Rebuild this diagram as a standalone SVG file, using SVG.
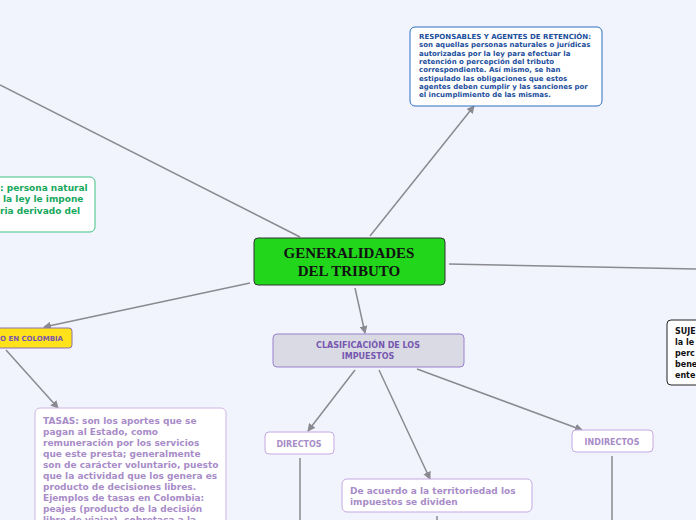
<svg xmlns="http://www.w3.org/2000/svg" width="696" height="520" viewBox="0 0 696 520">
<style>
.c{stroke:#8a8a90;stroke-width:1.5;fill:none}
.a{marker-end:url(#ar)}
text{font-family:"DejaVu Sans",Verdana,sans-serif;font-weight:bold}
.p{fill:#a88cc8;font-size:9px}
</style>
<defs><marker id="ar" markerWidth="8" markerHeight="8" refX="7" refY="4" orient="auto" markerUnits="userSpaceOnUse"><path d="M0,0L8,4L0,8z" fill="#8a8a90"/></marker></defs>
<rect width="696" height="520" fill="#f2f4fd"/>
<g id="connectors">
<path class="c" d="M0,85L300,237"/>
<path class="c a" d="M370,236L474,106"/>
<path class="c" d="M449,264L696,269"/>
<path class="c a" d="M250,283L44,327"/>
<path class="c a" d="M355,288L365,333"/>
<path class="c a" d="M6,350L58,408"/>
<path class="c a" d="M355,370L308,431"/>
<path class="c a" d="M379,370L430,479"/>
<path class="c a" d="M417,369L582,430"/>
<path class="c" d="M300,458V520M612,456V520M437,516V520"/>
</g>
<g id="central"><rect x="254" y="238" width="191" height="47" rx="4" fill="#22d61c" stroke="#333"/>
<text x="349" y="258" text-anchor="middle" style="font-family:'Liberation Serif',serif;font-size:15px" fill="#111">GENERALIDADES</text>
<text x="349" y="276" text-anchor="middle" style="font-family:'Liberation Serif',serif;font-size:15px" fill="#111">DEL TRIBUTO</text></g>
<g id="responsables"><rect x="410" y="27" width="192" height="79" rx="5" fill="#fff" stroke="#2a6fc0"/>
<text font-size="7" fill="#1b4e9c"><tspan x="419" y="39">RESPONSABLES Y AGENTES DE RETENCIÓN:</tspan><tspan x="419" y="47.3">son aquellas personas naturales o jurídicas</tspan><tspan x="419" y="55.6">autorizadas por la ley para efectuar la</tspan><tspan x="419" y="63.9">retención o percepción del tributo</tspan><tspan x="419" y="72.2">correspondiente. Así mismo, se han</tspan><tspan x="419" y="80.5">estipulado las obligaciones que estos</tspan><tspan x="419" y="88.8">agentes deben cumplir y las sanciones por</tspan><tspan x="419" y="97.1">el incumplimiento de las mismas.</tspan></text></g>
<g id="sujeto-activo"><rect x="-10" y="177" width="105" height="55" rx="5" fill="#fff" stroke="#3cc383"/>
<text font-size="9" fill="#17a85c"><tspan x="0" y="191">: persona natural</tspan><tspan x="3" y="202">la ley le impone</tspan><tspan x="0" y="214">ria derivado del</tspan></text></g>
<g id="colombia"><rect x="-10" y="328" width="82" height="20" rx="3" fill="#ffe21a" stroke="#8a70b0"/>
<text x="0" y="341" font-size="7" fill="#7a55b0">O EN COLOMBIA</text></g>
<g id="tasas"><rect x="35" y="408" width="191" height="125" rx="5" fill="#fff" stroke="#cdb6e4"/>
<text class="p"><tspan x="43" y="424">TASAS: son los aportes que se</tspan><tspan x="43" y="435">pagan al Estado, como</tspan><tspan x="43" y="446">remuneración por los servicios</tspan><tspan x="43" y="457">que este presta; generalmente</tspan><tspan x="43" y="468">son de carácter voluntario, puesto</tspan><tspan x="43" y="479">que la actividad que los genera es</tspan><tspan x="43" y="490">producto de decisiones libres.</tspan><tspan x="43" y="501">Ejemplos de tasas en Colombia:</tspan><tspan x="43" y="512">peajes (producto de la decisión</tspan><tspan x="43" y="523">libre de viajar), sobretasa a la</tspan></text></g>
<g id="clasificacion"><rect x="273" y="334" width="191" height="33" rx="4" fill="#d9dae3" stroke="#9a80cc"/>
<text font-size="8" fill="#7657b0" text-anchor="middle"><tspan x="368" y="348">CLASIFICACIÓN DE LOS</tspan><tspan x="368" y="359">IMPUESTOS</tspan></text></g>
<g id="directos"><rect x="265" y="432" width="69" height="22" rx="4" fill="#fff" stroke="#c4a8e0"/>
<text x="299" y="447" font-size="8" fill="#a88cc8" text-anchor="middle">DIRECTOS</text></g>
<g id="indirectos"><rect x="572" y="430" width="81" height="22" rx="4" fill="#fff" stroke="#c4a8e0"/>
<text x="612" y="445" font-size="8" fill="#a88cc8" text-anchor="middle">INDIRECTOS</text></g>
<g id="territoriedad"><rect x="342" y="479" width="190" height="33" rx="5" fill="#fff" stroke="#c4a8e0"/>
<text class="p"><tspan x="350" y="494">De acuerdo a la territoriedad los</tspan><tspan x="350" y="505">impuestos se dividen</tspan></text></g>
<g id="sujeto-pasivo"><rect x="667" y="320" width="40" height="65" rx="4" fill="#fff" stroke="#222"/>
<text font-size="8" fill="#111"><tspan x="675" y="334">SUJE</tspan><tspan x="675" y="345">la le</tspan><tspan x="675" y="356">perc</tspan><tspan x="675" y="367">bene</tspan><tspan x="675" y="378">ente</tspan></text></g>
</svg>
